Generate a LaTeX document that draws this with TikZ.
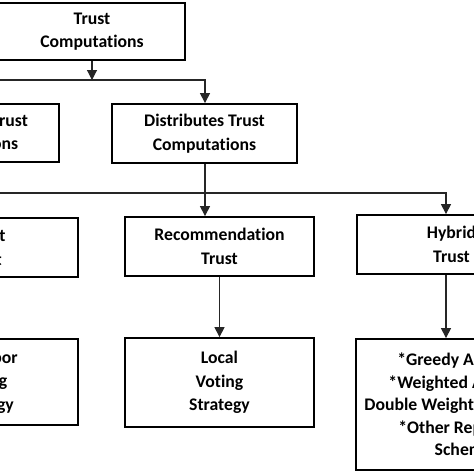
\documentclass[tikz,border=0pt]{standalone}
\usepackage{fontspec}
\setmainfont{Carlito}[Ligatures={NoCommon}]
\usetikzlibrary{arrows.meta}
\begin{document}
\begin{tikzpicture}[x=1pt,y=-1pt,
  box/.style={draw=black, line width=1.8pt, rectangle, inner sep=0pt, align=center,
    font=\bfseries\fontsize{17.7}{23.5}\selectfont, text=black},
  conn/.style={draw=black!85, line width=1.1pt},
  arr/.style={conn, -{Triangle[length=10pt,width=10pt]}}]
\useasboundingbox (0,0) rectangle (474,474);
\clip (0,0) rectangle (474,474);
\fill[white] (0,0) rectangle (474,474);
% nodes
\node[box, minimum width=186pt, minimum height=57pt] (top) at (92,31.5) {Trust\\Computations};
\node[box, minimum width=185pt, minimum height=58pt] (cen) at (-33.5,133) {Centralized Trust\\Computations};
\node[box, minimum width=185pt, minimum height=59pt] (dist) at (204.5,133.5) {Distributes Trust\\Computations};
\node[box, minimum width=189pt, minimum height=59pt] (dir) at (-16.5,247.5) {Direct\\Trust};
\node[box, minimum width=189pt, minimum height=59pt] (rec) at (219.5,246.5) {Recommendation\\Trust};
\node[box, minimum width=189pt, minimum height=59pt] (hyb) at (451.5,244.5) {Hybrid\\Trust};
\node[box, minimum width=189pt, minimum height=86pt] (nei) at (-16.5,382) {Neighbor\\Voting\\Strategy};
\node[box, minimum width=189pt, minimum height=89pt] (loc) at (219.5,382.5) {Local\\Voting\\Strategy};
\node[box, minimum width=222pt, minimum height=131pt, font=\bfseries\fontsize{17.7}{22.5}\selectfont] (hb) at (467,404.5)
  {*Greedy Algorithm\\*Weighted Algorithm\\Double Weighted Algorithm\\*Other Reputation\\Schemes};
% connectors
\coordinate (b1) at (92,80);
\coordinate (b2) at (205,193);
\coordinate (hx) at (446,193);
\draw[arr] (top.south) -- (b1);
\draw[arr] (b1 -| cen) -- (cen.north);
\draw[arr] (b1 -| cen) -- (b1 -| b2) -- (b2 |- dist.north);
\draw[arr] (b2 |- dist.south) -- (b2 |- rec.north);
\draw[arr] (b2 -| dir) -- (dir.north);
\draw[arr] (b2 -| dir) -- (hx) -- (hx |- hyb.north);
\draw[arr] (rec.south) -- (loc.north);
\draw[arr] (dir.south) -- (nei.north);
\draw[arr] (hx |- hyb.south) -- (hx |- hb.north);
\end{tikzpicture}
\end{document}
